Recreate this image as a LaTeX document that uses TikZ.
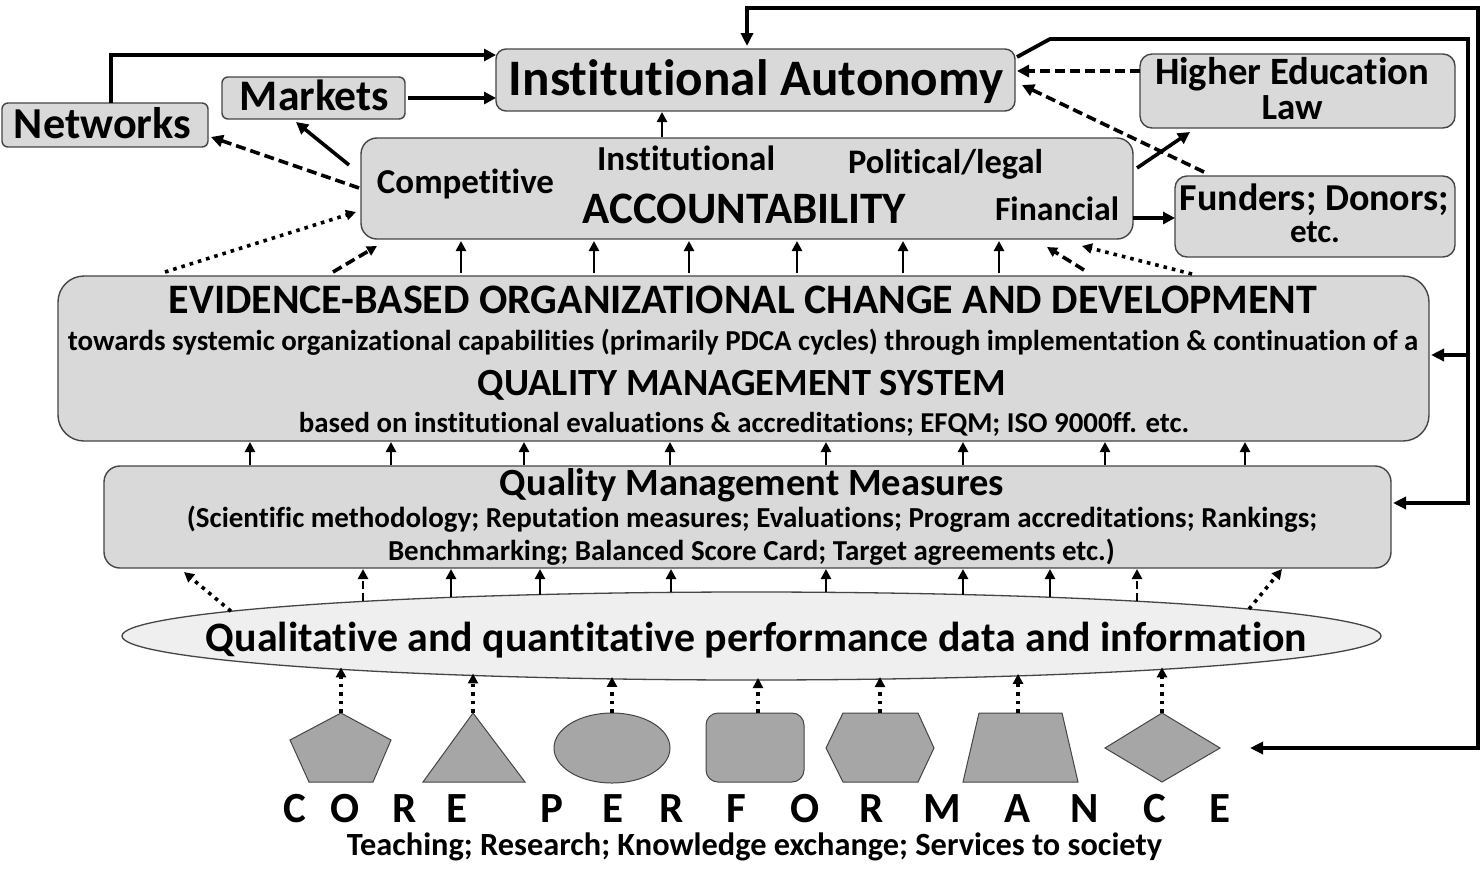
\documentclass[tikz,border=0pt]{standalone}
\usepackage{fontspec}
\setmainfont{Carlito}[Ligatures=CommonOff]
\usetikzlibrary{arrows.meta,shapes.geometric,calc}
\definecolor{boxgray}{HTML}{D9D9D9}
\definecolor{ellgray}{HTML}{EFEFEF}
\definecolor{shapegray}{HTML}{A6A6A6}
\definecolor{edgegray}{HTML}{454545}
\newcommand{\fw}[2]{\resizebox{#1pt}{!}{\bfseries #2}}
\begin{document}
\begin{tikzpicture}[x=1pt,y=-1pt,
  box/.style={draw=edgegray, line width=1.4pt, fill=boxgray, rounded corners=#1, inner sep=0pt, outer sep=0pt},
  box/.default=8pt,
  lbl/.style={inner sep=0pt, outer sep=0pt, anchor=base},
  arr/.style={-{Triangle[length=12pt,width=12pt]}, line width=3.6pt},
  sarr/.style={-{Triangle[length=10pt,width=10pt]}, line width=2.8pt},
  fbarr/.style={-{Triangle[length=13pt,width=12pt]}, line width=3.8pt},
  dsh/.style={line width=3.6pt, dash pattern=on 10pt off 5pt},
  dtt/.style={line width=3.6pt, dash pattern=on 3.6pt off 5pt},
  gapd/.style={dash pattern=on 8pt off 4pt},
  perf/.style={draw=edgegray, line width=1pt, fill=shapegray}
]
\useasboundingbox[fill=white] (0,0) rectangle (1482,892);

% boxes
\node[box=6pt, minimum width=206pt, minimum height=44pt] (net) at (105,125) {};
\node[box=6pt, minimum width=183pt, minimum height=42pt] (mkt) at (313.5,98) {};
\node[box=10pt, minimum width=519pt, minimum height=62pt] (ia) at (755.5,80) {};
\node[box=12pt, minimum width=315pt, minimum height=74pt] (hel) at (1297.5,91) {};
\node[box=12pt, minimum width=280pt, minimum height=81pt] (fund) at (1315,216.5) {};
\node[box=16pt, minimum width=772pt, minimum height=101pt] (acc) at (747,188.5) {};
\node[box=26pt, minimum width=1371pt, minimum height=165pt] (eboc) at (743.5,358.5) {};
\node[box=16pt, minimum width=1287pt, minimum height=102pt] (qmm) at (747.5,517) {};
\node[draw=edgegray, line width=1.3pt, fill=ellgray, ellipse, minimum width=1259pt, minimum height=88pt, inner sep=0pt, outer sep=0pt] (ell) at (751.5,636) {};

% texts
\node[lbl] (netT) at (102.5,138) {\fw{177}{Networks}};
\node[lbl] (mktT) at (314.5,110) {\fw{149}{Markets}};
\node[lbl] (iaT) at (756,95) {\fw{494}{Institutional Autonomy}};
\node[lbl] (helT1) at (1292,84) {\fw{274}{Higher Education}};
\node[lbl] (helT2) at (1292,119) {\fw{61}{Law}};
\node[lbl] (fundT1) at (1314.5,210) {\fw{269}{Funders; Donors;}};
\node[lbl] (fundT2) at (1315,242) {\fw{50}{etc.}};
\node[lbl] (accT1) at (465.5,193) {\fw{177}{Competitive}};
\node[lbl] (accT2) at (686,170) {\fw{178}{Institutional}};
\node[lbl] (accT3) at (945.5,173) {\fw{195}{Political/legal}};
\node[lbl] (accT4) at (744.5,223) {\fw{323}{ACCOUNTABILITY}};
\node[lbl] (accT5) at (1057,220) {\fw{124}{Financial}};
\node[lbl] (ebT1) at (743,313) {\fw{1148}{EVIDENCE-BASED ORGANIZATIONAL CHANGE AND DEVELOPMENT}};
\node[lbl] (ebT2) at (743,350) {\fw{1350}{towards systemic organizational capabilities (primarily PDCA cycles) through implementation \& continuation of a}};
\node[lbl] (ebT3) at (742,395) {\fw{528}{QUALITY MANAGEMENT SYSTEM}};
\node[lbl] (ebT4) at (744,432) {\fw{890}{based on institutional evaluations \& accreditations; EFQM; ISO 9000ff. etc.}};
\node[lbl] (qmT1) at (752,495) {\fw{504}{Quality Management Measures}};
\node[lbl] (qmT2) at (752,527) {\fw{1130}{(Scientific methodology; Reputation measures; Evaluations; Program accreditations; Rankings;}};
\node[lbl] (qmT3) at (751.5,560) {\fw{727}{Benchmarking; Balanced Score Card; Target agreements etc.)}};
\node[lbl] (ellT) at (756.5,651) {\fw{1101}{Qualitative and quantitative performance data and information}};
\foreach \i/\l/\x in {1/C/295, 2/O/345, 3/R/405, 4/E/457, 5/P/552, 6/E/613, 7/R/672, 8/F/736,
                      9/O/805, 10/R/872, 11/M/942, 12/A/1018, 13/N/1085, 14/C/1155, 15/E/1220}
  \node[lbl, font=\fontsize{43}{48}\selectfont\bfseries] (core\i) at (\x,822) {\l};
\node[lbl] (teachT) at (754.5,855) {\fw{815}{Teaching; Research; Knowledge exchange; Services to society}};

% core performance shapes
\filldraw[perf] (341,713) -- (391,740) -- (373,782) -- (309,782) -- (290,740) -- cycle;
\filldraw[perf] (473,713) -- (525,782) -- (423,782) -- cycle;
\filldraw[perf] (612,748) ellipse [x radius=58pt, y radius=35pt];
\filldraw[perf, rounded corners=12pt] (706,713) rectangle (804,782);
\filldraw[perf] (843,713) -- (918,713) -- (934,748) -- (918,782) -- (843,782) -- (826,748) -- cycle;
\filldraw[perf] (979,713) -- (1062,713) -- (1078,782) -- (963,782) -- cycle;
\filldraw[perf] (1162,713) -- (1220,748) -- (1162,782) -- (1105,748) -- cycle;
\foreach \i/\x in {1/341, 2/473, 3/612, 4/758, 5/880, 6/1018, 7/1162} {
  \coordinate (p\i) at (\x,713);
  \coordinate (b\i) at (\x,{636+44*sqrt(1-((\x-751.5)/629.5)^2)});
}
\foreach \i/\x in {1/363, 2/451, 3/540, 4/671, 5/826, 6/963, 7/1050, 8/1137, 9/231, 10/1249}
  \coordinate (e\i) at (\x,{636-44*sqrt(1-((\x-751.5)/629.5)^2)});
\coordinate (perfR) at (1250,748);

% shapes -> ellipse (dotted)
\foreach \i in {1,...,7}
  \draw[sarr, dtt, shorten >=-2pt] (p\i) -- (b\i);

% ellipse -> QMM
\foreach \i in {2,...,7}
  \draw[sarr, shorten >=1pt] (e\i) -- (e\i |- qmm.south);
\foreach \i in {1,8}
  \draw[sarr, gapd, shorten >=1pt] (e\i) -- (e\i |- qmm.south);
\draw[sarr, dtt] (e9) -- ($(qmm.south west)+(80,4)$);
\draw[sarr, dtt] (e10) -- ($(qmm.south east)+(-109,1)$);

% QMM -> EBOC
\foreach \x in {250,391,524,670,826,963,1105,1245}
  \draw[sarr, shorten <=1pt, shorten >=1pt] (qmm.north -| \x,0) -- (eboc.south -| \x,0);

% EBOC -> Accountability
\foreach \x in {461,594,689,797,903,999}
  \draw[sarr, shorten <=3pt, shorten >=2pt] (eboc.north -| \x,0) -- (acc.south -| \x,0);
\draw[sarr, dsh] ($(eboc.north west)+(275,-4)$) -- ($(acc.south west)+(16,7)$);
\draw[sarr, dtt] ($(eboc.north west)+(107,-4)$) -- ($(acc.west)+(-5,23.5)$);
\draw[sarr, dsh] ($(eboc.north east)+(-345,-6)$) -- ($(acc.south east)+(-86,8)$);
\draw[sarr, dtt] ($(eboc.north east)+(-237,-2)$) -- ($(acc.south east)+(-51,7)$);

% Accountability -> top row
\draw[sarr, shorten <=1pt, shorten >=1pt] (acc.north -| 662,0) -- (ia.south -| 662,0);
\draw[arr] ($(acc.west)+(-12,-23.5)$) -- ($(mkt.south)+(-17.5,3)$);
\draw[arr, dsh] ($(acc.west)+(-2,-0.5)$) -- ($(net.east)+(3,12)$);
\draw[arr] ($(acc.east)+(4,-20.5)$) -- ($(hel.south)+(-107.5,4)$);
\draw[arr] (acc.east |- 0,218) -- (fund.west |- 0,218);

% into Institutional Autonomy
\draw[arr] (net.north -| 111,0) |- (ia.west |- 0,55);
\draw[arr] ($(mkt.east |- 0,98)+(3,0)$) -- (ia.west |- 0,98);
\draw[arr, dsh] (hel.west |- 0,71) -- ($(ia.east |- 0,71)+(2,0)$);
\draw[arr, dsh] ($(fund.north)+(-111,-4)$) -- ($(ia.east)+(7,5)$);

% feedback loops
\coordinate (fbA) at (1050,39);
\coordinate (fbB) at (1468,503);
\coordinate (fbC) at (1478,8);
\draw[line width=3.8pt, {Triangle[length=13pt,width=12pt]}-{Triangle[length=13pt,width=12pt]}]
  ($(ia.north -| 747,0)+(0,-3)$) |- (fbC) |- (perfR);
\draw[fbarr] ($(ia.east)+(2,-23)$) -- (fbA) -| (fbB) -- ($(qmm.east |- fbB)+(2,0)$);
\draw[fbarr] (fbB |- 0,355) -- ($(eboc.east |- 0,355)+(2,0)$);
\end{tikzpicture}
\end{document}
